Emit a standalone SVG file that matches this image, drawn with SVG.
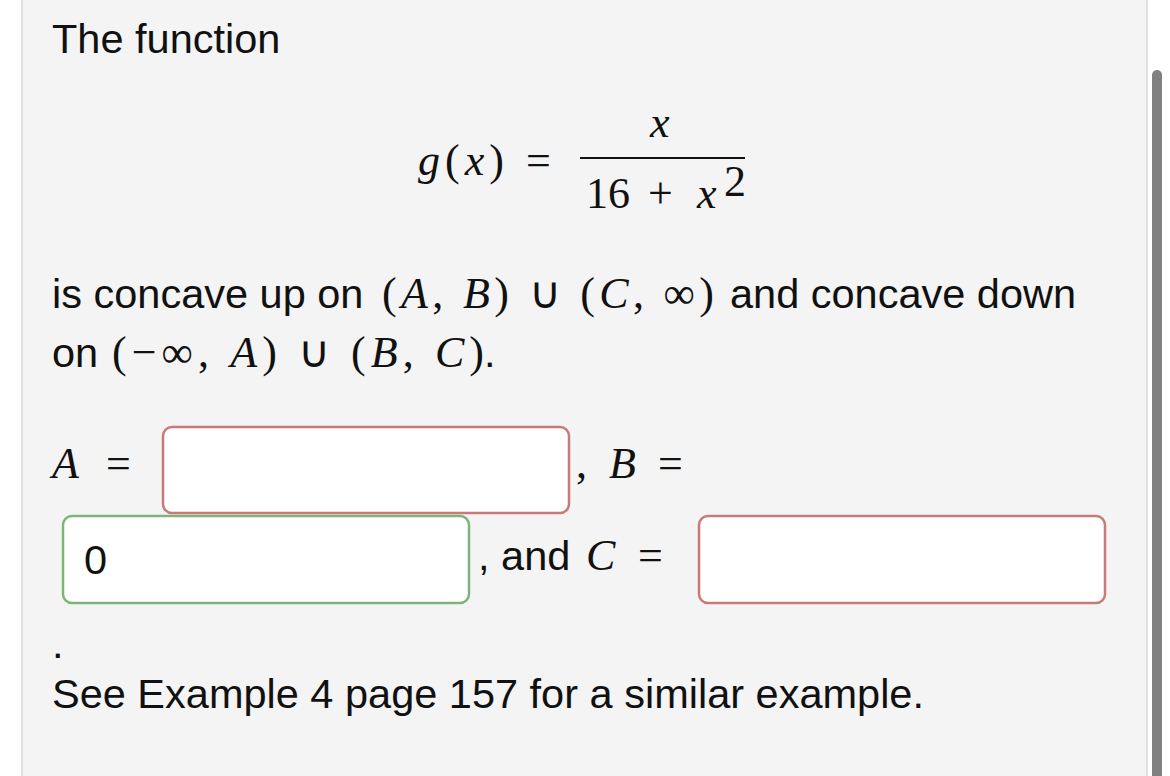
<svg xmlns="http://www.w3.org/2000/svg" width="1170" height="776" viewBox="0 0 1170 776">
<style>
.t{font-family:"Liberation Sans",Arial,sans-serif;font-size:41.5px;fill:#111}
.m{font-family:"Liberation Serif","Times New Roman",serif;font-size:44px;fill:#111}
.i{font-style:italic}
.box{fill:#fff;stroke-width:2.5}
.red{stroke:#c87a78}
.grn{stroke:#80b27b}
</style>
<rect x="0" y="0" width="1170" height="776" fill="#fff"/>
<rect x="22" y="-2" width="1125" height="790" fill="#f4f4f4" stroke="#e0e0e0" stroke-width="2"/>
<rect x="1152" y="70" width="10" height="720" rx="5" fill="#808080"/>
<text class="t" x="52" y="53">The function</text>
<text class="m" x="418" y="175" textLength="86" lengthAdjust="spacing"><tspan class="i">g</tspan>(<tspan class="i">x</tspan>)</text>
<text class="m" x="526" y="175">=</text>
<text class="m i" x="650" y="137">x</text>
<line x1="580" y1="158" x2="745" y2="158" stroke="#111" stroke-width="2"/>
<text class="m" x="586" y="208">16</text>
<text class="m" x="648" y="208">+</text>
<text class="m i" x="697" y="208">x</text>
<text class="m" x="724" y="196" font-size="27">2</text>
<text class="t" x="52" y="308">is concave up on</text>
<text class="m" x="382" y="308" textLength="332" lengthAdjust="spacing">(<tspan class="i">A</tspan>, <tspan class="i">B</tspan>) ∪ (<tspan class="i">C</tspan>, ∞)</text>
<text class="t" x="730" y="308">and concave down</text>
<text class="t" x="52" y="367">on</text>
<text class="m" x="112" y="367" textLength="372" lengthAdjust="spacing">(−∞, <tspan class="i">A</tspan>) ∪ (<tspan class="i">B</tspan>, <tspan class="i">C</tspan>)</text>
<text class="t" x="484" y="367">.</text>
<text class="m i" x="52" y="478">A</text>
<text class="m" x="106" y="478">=</text>
<g id="boxA"><rect class="box red" x="163" y="427" width="406" height="86" rx="9"/></g>
<text class="m" x="576" y="478">,</text>
<text class="m i" x="609" y="478">B</text>
<text class="m" x="658" y="478">=</text>
<g id="boxB"><rect class="box grn" x="63" y="516" width="406" height="87" rx="9"/>
<text class="t" x="84" y="574">0</text></g>
<text class="t" x="478" y="570">, and</text>
<text class="m i" x="586" y="570">C</text>
<text class="m" x="638" y="570">=</text>
<g id="boxC"><rect class="box red" x="699" y="516" width="406" height="87" rx="9"/></g>
<text class="t" x="52" y="658">.</text>
<text class="t" x="52" y="708">See Example 4 page 157 for a similar example.</text>
</svg>
